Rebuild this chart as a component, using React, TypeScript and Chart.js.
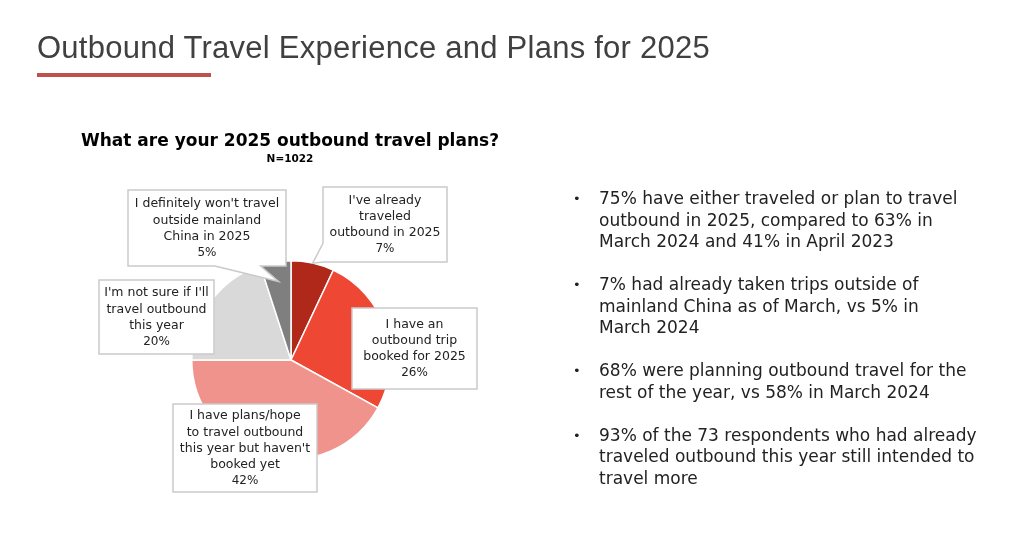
import { useEffect, useRef } from "react";
import { Chart, registerables } from "chart.js";

Chart.register(...registerables);

// ---------- data ----------
const pageTitle = "Outbound Travel Experience and Plans for 2025";
const chartTitle = "What are your 2025 outbound travel plans?";
const sampleNote = "N=1022";

const categories: string[][] = [
  ["I've already", "traveled", "outbound in 2025"],
  ["I have an", "outbound trip", "booked for 2025"],
  ["I have plans/hope", "to travel outbound", "this year but haven't", "booked yet"],
  ["I'm not sure if I'll", "travel outbound", "this year"],
  ["I definitely won't travel", "outside mainland", "China in 2025"],
];
const values: number[] = [7, 26, 42, 20, 5];
const sliceColors: string[] = ["#B0281A", "#EE4834", "#F1938D", "#D9D9D9", "#7F7F7F"];

const bullets: string[][] = [
  [
    "75% have either traveled or plan to travel",
    "outbound in 2025, compared to 63% in",
    "March 2024 and 41% in April 2023",
  ],
  [
    "7% had already taken trips outside of",
    "mainland China as of March, vs 5% in",
    "March 2024",
  ],
  [
    "68% were planning outbound travel for the",
    "rest of the year, vs 58% in March 2024",
  ],
  [
    "93% of the 73 respondents who had already",
    "traveled outbound this year still intended to",
    "travel more",
  ],
];

// ---------- layout (not data) ----------
type Box = { x: number; y: number; w: number; h: number; pointer?: "left" | "bottom"; tipR?: number };
const calloutBoxes: Box[] = [
  { x: 323, y: 187, w: 124, h: 75, pointer: "left", tipR: 1.0 },
  { x: 352, y: 308, w: 125, h: 81 },
  { x: 173, y: 404, w: 144, h: 88 },
  { x: 99, y: 280, w: 115, h: 74 },
  { x: 128, y: 190, w: 158, h: 76, pointer: "bottom", tipR: 0.8 },
];

const PIE_CX = 291;
const PIE_CY = 360;
const PIE_R = 99;

const calloutPlugin = {
  id: "callouts",
  afterDatasetsDraw(chart: any) {
    const ctx: CanvasRenderingContext2D = chart.ctx;
    const meta = chart.getDatasetMeta(0);
    meta.data.forEach((arc: any, i: number) => {
      const b = calloutBoxes[i];
      if (!b) return;
      const p = arc.getProps(["x", "y", "startAngle", "endAngle", "outerRadius"], true);
      const mid = (p.startAngle + p.endAngle) / 2;
      const tr = (b.tipR ?? 1) * p.outerRadius;
      const tx = p.x + Math.cos(mid) * tr;
      const ty = p.y + Math.sin(mid) * tr;

      ctx.save();
      ctx.beginPath();
      const { x, y, w, h } = b;
      if (b.pointer === "bottom") {
        ctx.moveTo(x, y);
        ctx.lineTo(x + w, y);
        ctx.lineTo(x + w, y + h);
        ctx.lineTo(x + w * 0.84, y + h);
        ctx.lineTo(tx, ty);
        ctx.lineTo(x + w * 0.55, y + h);
        ctx.lineTo(x, y + h);
        ctx.closePath();
      } else if (b.pointer === "left") {
        ctx.moveTo(x, y);
        ctx.lineTo(x + w, y);
        ctx.lineTo(x + w, y + h);
        ctx.lineTo(x, y + h);
        ctx.lineTo(tx, ty);
        ctx.lineTo(x, y + h * 0.75);
        ctx.closePath();
      } else {
        ctx.rect(x, y, w, h);
      }
      ctx.fillStyle = "#FFFFFF";
      ctx.fill();
      ctx.strokeStyle = "#CACACA";
      ctx.lineWidth = 1.5;
      ctx.stroke();

      const lines = [...categories[i], `${values[i]}%`];
      const lh = 16.2;
      const cy = y + h / 2;
      const startY = cy - ((lines.length - 1) * lh) / 2 + 0.5;
      ctx.fillStyle = "#222222";
      ctx.textAlign = "center";
      ctx.textBaseline = "middle";
      lines.forEach((ln, k) => {
        const isPct = k === lines.length - 1;
        ctx.font = isPct ? '12px "DejaVu Sans"' : '12.5px "DejaVu Sans"';
        ctx.fillText(ln, x + w / 2, startY + k * lh);
      });
      ctx.restore();
    });
  },
};

export default function App() {
  const canvasRef = useRef<HTMLCanvasElement | null>(null);

  useEffect(() => {
    const canvas = canvasRef.current;
    if (!canvas) return;
    const W = 1024;
    const H = 542;
    const chart = new Chart(canvas, {
      type: "pie",
      data: {
        labels: categories.map((c) => c.join(" ")),
        datasets: [
          {
            data: values,
            backgroundColor: sliceColors,
            borderColor: "#FFFFFF",
            borderWidth: 1.5,
          },
        ],
      },
      options: {
        responsive: false,
        maintainAspectRatio: false,
        animation: false,
        devicePixelRatio: 1,
        layout: {
          padding: {
            left: PIE_CX - PIE_R - 1,
            right: W - (PIE_CX + PIE_R + 1),
            top: PIE_CY - PIE_R - 1,
            bottom: H - (PIE_CY + PIE_R + 1),
          },
        },
        plugins: {
          legend: { display: false },
          tooltip: { enabled: false },
        },
      },
      plugins: [calloutPlugin],
    });
    return () => chart.destroy();
  }, []);

  return (
    <div
      style={{
        position: "fixed",
        left: 0,
        top: 0,
        width: 1024,
        height: 542,
        background: "#FFFFFF",
        overflow: "hidden",
      }}
    >
      <canvas
        ref={canvasRef}
        width={1024}
        height={542}
        style={{ position: "absolute", left: 0, top: 0, width: 1024, height: 542 }}
      />
      <div
        style={{
          position: "absolute",
          left: 37,
          top: 32,
          fontFamily: '"Liberation Sans", Arial, sans-serif',
          fontSize: 31,
          lineHeight: "31px",
          letterSpacing: 0.25,
          color: "#404040",
          whiteSpace: "nowrap",
        }}
      >
        {pageTitle}
      </div>
      <div
        style={{
          position: "absolute",
          left: 37,
          top: 73,
          width: 174,
          height: 4,
          background: "#C0504D",
        }}
      />
      <div
        style={{
          position: "absolute",
          left: 40,
          top: 132,
          width: 500,
          textAlign: "center",
          fontFamily: '"DejaVu Sans", sans-serif',
          fontWeight: "bold",
          fontSize: 17,
          lineHeight: "17px",
          color: "#000000",
          whiteSpace: "nowrap",
        }}
      >
        {chartTitle}
      </div>
      <div
        style={{
          position: "absolute",
          left: 40,
          top: 153,
          width: 500,
          textAlign: "center",
          fontFamily: '"DejaVu Sans", sans-serif',
          fontWeight: "bold",
          fontSize: 10.5,
          lineHeight: "11px",
          color: "#000000",
        }}
      >
        {sampleNote}
      </div>
      <div
        style={{
          position: "absolute",
          left: 570,
          top: 188,
          width: 440,
          fontFamily: '"DejaVu Sans", sans-serif',
          fontSize: 17,
          lineHeight: "21.5px",
          color: "#222222",
        }}
      >
        {bullets.map((b, i) => (
          <div key={i} style={{ position: "relative", paddingLeft: 29, marginBottom: 21.5 }}>
            <span style={{ position: "absolute", left: 3, top: 0, fontSize: 13 }}>•</span>
            {b.map((ln, k) => (
              <div key={k} style={{ whiteSpace: "nowrap" }}>
                {ln}
              </div>
            ))}
          </div>
        ))}
      </div>
    </div>
  );
}
